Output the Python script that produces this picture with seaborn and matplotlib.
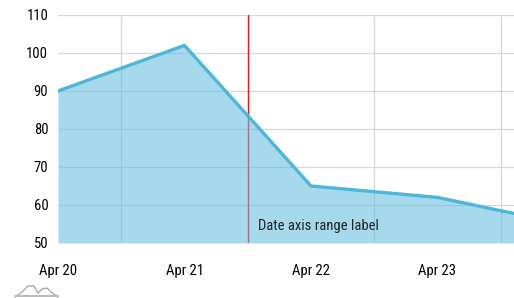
import matplotlib
matplotlib.use("Agg")
import matplotlib.pyplot as plt
import matplotlib.dates as mdates
from matplotlib.lines import Line2D
import seaborn as sns
import pandas as pd
import numpy as np

dates = ["2019-04-20", "2019-04-21", "2019-04-22", "2019-04-23", "2019-04-24"]
values = [90, 102, 65, 62, 55]
tick_labels = ["Apr 20", "Apr 21", "Apr 22", "Apr 23"]
range_date = "2019-04-21 12:00"
range_label = "Date axis range label"

df = pd.DataFrame({"date": pd.to_datetime(dates), "value": values})

sns.set_theme(style="white")
plt.rcParams["font.family"] = ["Roboto Condensed", "DejaVu Sans"]

fig = plt.figure(figsize=(5.14, 2.98), dpi=100)
ax = fig.add_axes([58 / 514, 1 - 243 / 298, (514 - 58) / 514, (243 - 15) / 298])

xmin = pd.Timestamp("2019-04-20")
xmax = xmin + pd.Timedelta(days=(514 - 58) / 126.5)

ax.fill_between(df["date"], df["value"], 50, color="#67bfdf", alpha=0.58, linewidth=0, zorder=3)
sns.lineplot(data=df, x="date", y="value", ax=ax, color="#4db6d9", linewidth=2.4, zorder=4)

ax.axvline(pd.Timestamp(range_date), color="#e31a1c", linewidth=1.0, zorder=2)
ax.text(pd.Timestamp(range_date) + pd.Timedelta(hours=2), 54.5, range_label,
        fontsize=10.5, color="#222222", va="center", ha="left", zorder=5)

ax.set_xlim(xmin, xmax)
ax.set_ylim(50, 110)
ax.set_yticks(range(50, 111, 10))
ax.set_xticks(pd.to_datetime(dates[:4]))
ax.set_xticklabels(tick_labels)
ax.xaxis.set_minor_locator(mdates.HourLocator(byhour=[12]))
ax.grid(False)
ax.grid(True, which="minor", axis="x", color="#d6d6d6", linewidth=0.9, zorder=1)
ax.grid(True, which="major", axis="y", color="#d6d6d6", linewidth=0.9, zorder=1)
ax.set_axisbelow(True)
ax.set_xlabel("")
ax.set_ylabel("")
for s in ax.spines.values():
    s.set_visible(False)
ax.tick_params(axis="both", which="both", length=0, labelsize=10.5, colors="#000000")
ax.tick_params(axis="x", pad=15)
ax.tick_params(axis="y", pad=7)

# small logo-ish mark bottom-left
lx = np.array([15, 22, 28, 34, 38, 42, 47, 51, 58]) / 514
ly = 1 - np.array([297, 292, 286, 286, 293, 289, 288, 292, 297]) / 298
fig.add_artist(Line2D(lx, ly, color="#aaaaaa", linewidth=1.0))
fig.add_artist(Line2D([15 / 514, 58 / 514], [1 - 296 / 298] * 2, color="#bbbbbb", linewidth=1.5))

fig.savefig("out.png", dpi=100)
